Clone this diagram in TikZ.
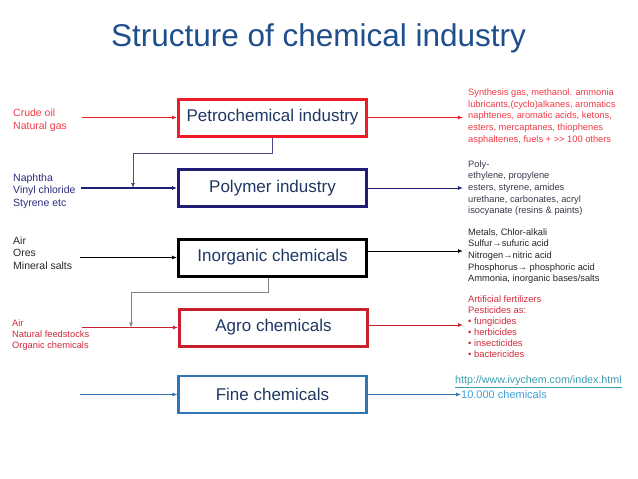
\documentclass[tikz,border=0pt]{standalone}
\usepackage{fontspec}
\setmainfont{Liberation Sans}
\usetikzlibrary{arrows.meta}
\definecolor{titleblue}{HTML}{1F4E8C}
\definecolor{boxtext}{HTML}{1F3864}
\definecolor{petrored}{HTML}{EE1C25}
\definecolor{lightred}{HTML}{F03A45}
\definecolor{navy}{HTML}{1E1E78}
\definecolor{navytext}{HTML}{2B2B7F}
\definecolor{greytext}{HTML}{3A3A4A}
\definecolor{agrored}{HTML}{C8202E}
\definecolor{agrotext}{HTML}{D02A3A}
\definecolor{fineblue}{HTML}{2E75B6}
\definecolor{urlteal}{HTML}{3C9BB0}
\definecolor{chemblue}{HTML}{3F9FD8}
\definecolor{branchnavy}{HTML}{4A4A8A}
\definecolor{branchgrey}{HTML}{7F7F7F}
\tikzset{
  box/.style={draw, line width=3pt, fill=white, minimum width=188pt, minimum height=37pt,
    inner sep=0pt, text=boxtext, font=\fontsize{17}{20}\selectfont},
  intext/.style={anchor=west, align=left, inner sep=0pt, font=\fontsize{10.5}{12.7}\selectfont},
  smalltext/.style={anchor=west, align=left, inner sep=0pt, font=\fontsize{9.3}{11}\selectfont},
  outtext/.style={anchor=west, align=left, inner sep=0pt, font=\fontsize{9.3}{11.6}\selectfont},
  conn/.style={line width=1.2pt, -{Latex[length=5pt,width=4pt]}},
  branch/.style={line width=0.8pt, -{Latex[length=5pt,width=4pt]}}
}
\begin{document}
\begin{tikzpicture}[x=1pt,y=-1pt]
\useasboundingbox (0,0) rectangle (638,479);
\node[text=titleblue, font=\fontsize{31.5}{36}\selectfont, inner sep=0pt] (title) at (318.5,38) {Structure of chemical industry};

% boxes
\node[box, draw=petrored] (petro) at (272.5,117.5) {Petrochemical industry};
\node[box, draw=navy] (poly) at (272.5,188) {Polymer industry};
\node[box, draw=black] (inorg) at (272.5,257.5) {Inorganic chemicals};
\node[box, draw=agrored] (agro) at (273.5,327.5) {Agro chemicals};
\node[box, draw=fineblue, line width=2.2pt] (fine) at (272.5,394.5) {Fine chemicals};

% input texts
\node[intext, text=lightred] (petroinT) at (13,120) {Crude oil\\Natural gas};
\node[intext, text=navytext] (polyinT) at (13,191) {Naphtha\\Vinyl chloride\\Styrene etc};
\node[intext, text=black!85] (inorginT) at (13,253) {Air\\Ores\\Mineral salts};
\node[smalltext, text=agrotext] (agroinT) at (12,335) {Air\\Natural feedstocks\\Organic chemicals};

% input line starts
\coordinate (petroin) at (82,117.5);
\coordinate (polyin) at (81,188);
\coordinate (inorgin) at (80,257.5);
\coordinate (agroin) at (82,327.5);
\coordinate (finein) at (80,394.5);
\coordinate (j1) at (133,188);
\coordinate (j2) at (131,327.5);

\draw[conn, petrored] (petroin) -- (petro.west);
\draw[conn, navy] (polyin) -- (poly.west);
\draw[conn, black] (inorgin) -- (inorg.west);
\draw[conn, agrored] (agroin) -- (agro.west);
\draw[conn, fineblue] (finein) -- (fine.west);

\draw[branch, branchnavy] (petro.south) -- ++(0,16) -| (j1);
\draw[branch, branchgrey] ([xshift=-4pt]inorg.south) -- ++(0,15) -| (j2);

% output ends
\coordinate (petroout) at (463,117.5);
\coordinate (polyout) at (463,188);
\coordinate (inorgout) at (463,251);
\coordinate (agroout) at (463,325);
\coordinate (fineout) at (461,394.5);

\draw[conn, petrored, line width=1pt] (petro.east) -- (petroout);
\draw[conn, navy, line width=1pt] (poly.east) -- (polyout);
\draw[conn, black, line width=1pt] (inorg.east |- inorgout) -- (inorgout);
\draw[conn, agrored, line width=1pt] (agro.east |- agroout) -- (agroout);
\draw[conn, fineblue, line width=1pt] (fine.east) -- (fineout);

% output texts
\node[outtext, text=lightred] (petrooutT) at (468,116.5) {Synthesis gas, methanol. ammonia\\lubricants,(cyclo)alkanes, aromatics\\naphtenes, aromatic acids, ketons,\\esters, mercaptanes, thiophenes\\asphaltenes, fuels + >{}> 100 others};
\node[outtext, text=greytext] (polyoutT) at (468,188) {Poly-\\ethylene, propylene\\esters, styrene, amides\\urethane, carbonates, acryl\\isocyanate (resins \& paints)};
\node[outtext, text=black!85] (inorgoutT) at (468,256) {Metals, Chlor-alkali\\Sulfur→sufuric acid\\Nitrogen→nitric acid\\Phosphorus→ phosphoric acid\\Ammonia, inorganic bases/salts};
\node[smalltext, text=agrotext, font=\fontsize{9.4}{11.1}\selectfont] (agrooutT) at (468,326.5) {Artificial fertilizers\\Pesticides as:\\• fungicides\\• herbicides\\• insecticides\\• bactericides};
\node[anchor=west, inner sep=0pt, text=urlteal, font=\fontsize{10.7}{12}\selectfont] (url) at (455,382) {\underline{http://www.ivychem.com/index.html}};
\node[anchor=west, inner sep=0pt, text=chemblue, font=\fontsize{11}{12}\selectfont] (chem) at (fineout) {10.000 chemicals};
\end{tikzpicture}
\end{document}
